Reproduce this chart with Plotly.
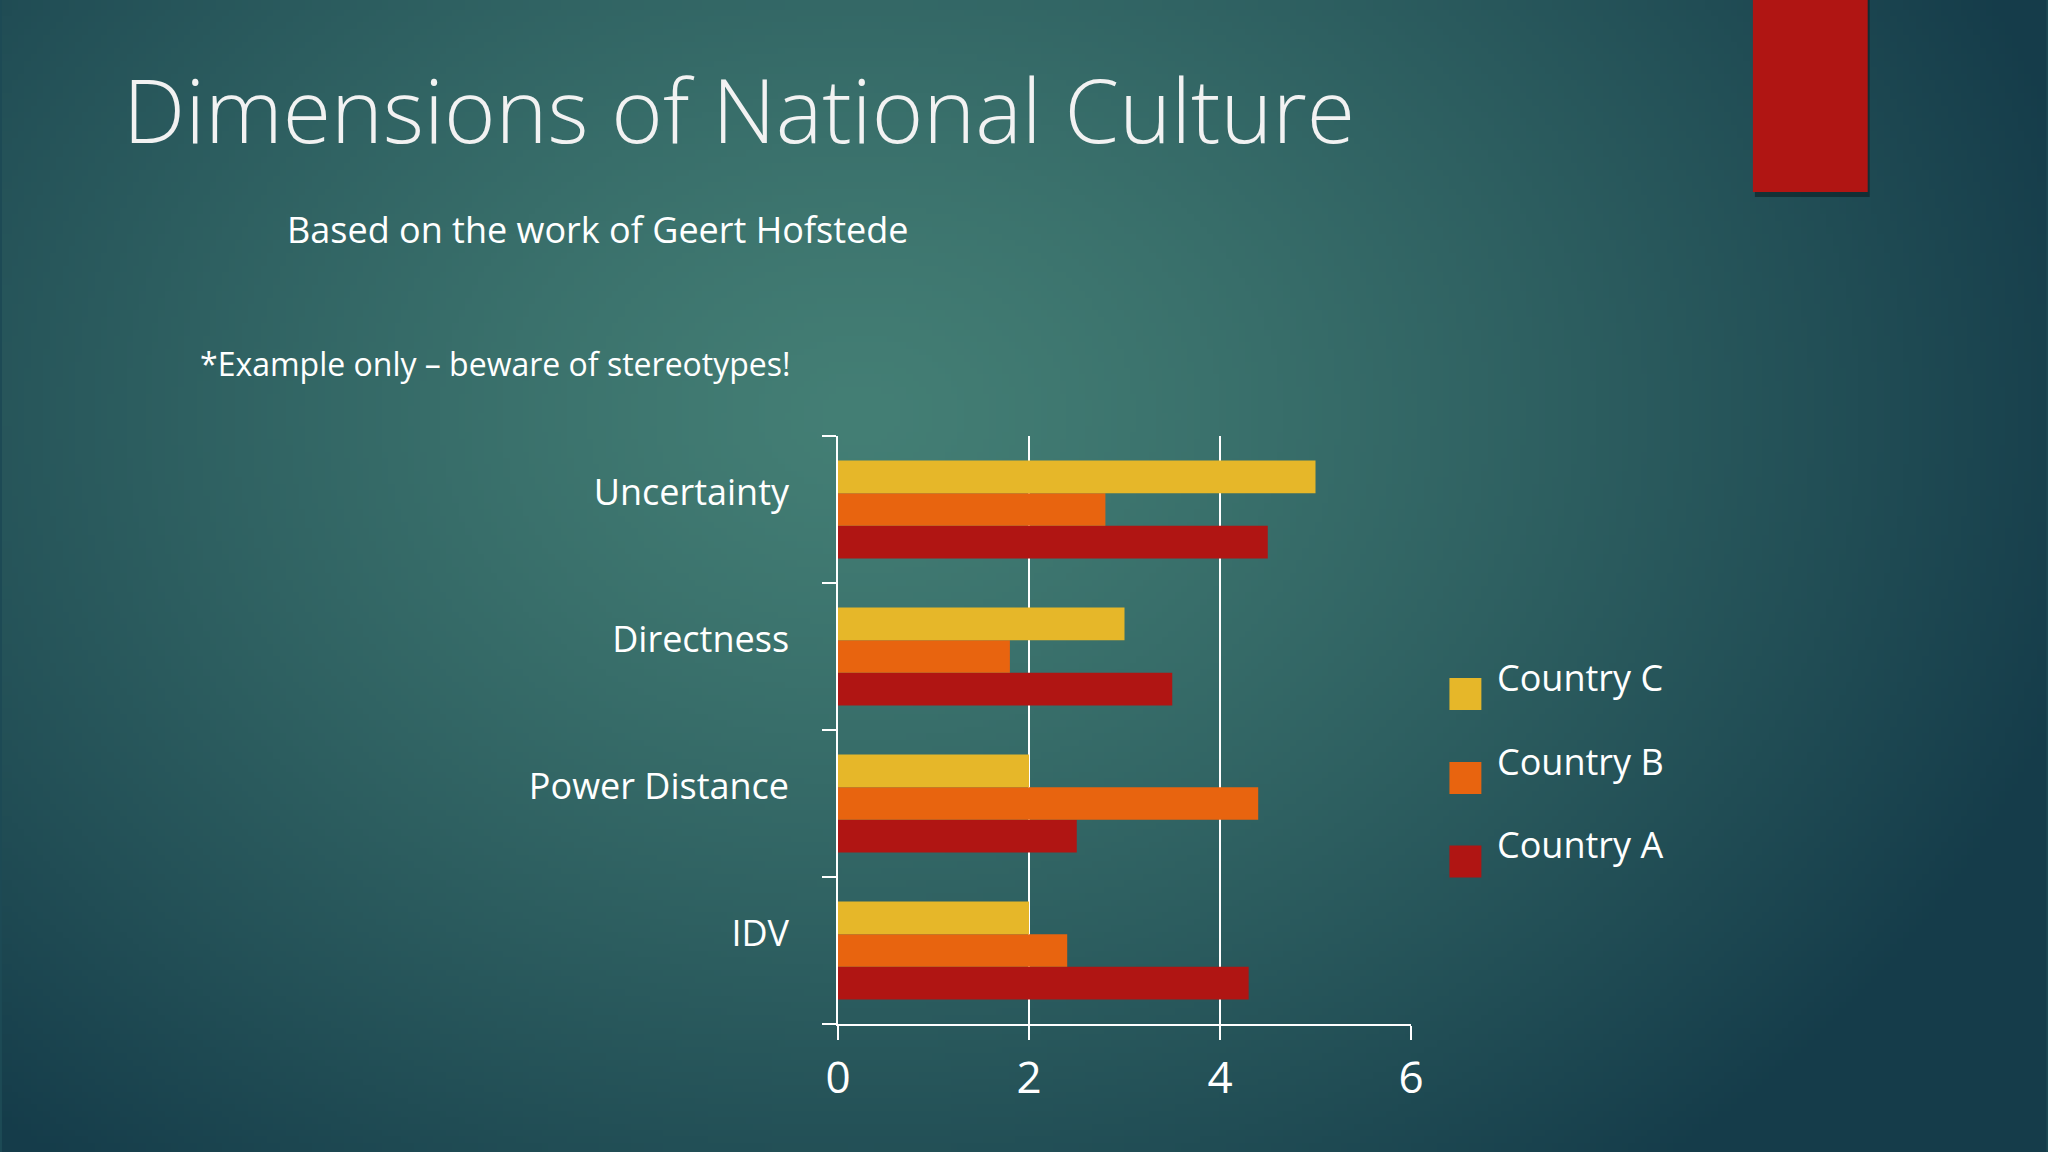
import base64, struct, zlib
import numpy as np
import plotly.graph_objects as go

# ---------------- data ----------------
categories = ["IDV", "Power Distance", "Directness", "Uncertainty"]
country_a = [4.3, 2.5, 3.5, 4.5]
country_b = [2.4, 4.4, 1.8, 2.8]
country_c = [2.0, 2.0, 3.0, 5.0]
series_names = ["Country A", "Country B", "Country C"]
series_values = [country_a, country_b, country_c]
series_colors = ["#B01513", "#E8640F", "#E6B729"]
x_ticks = [0, 2, 4, 6]

title_text = "Dimensions of National Culture"
subtitle_text = "Based on the work of Geert Hofstede"
note_text = "*Example only \u2013 beware of stereotypes!"

# ---------------- geometry ----------------
W, H = 2048, 1152
L, R, T, B = 837.5, 2048 - 1411.5, 436, 1152 - 1024
PW, PH = W - L - R, H - T - B

def px(x):
    return (x - L) / PW

def py(y):
    return (H - B - y) / PH

FONT = "Open Sans, Noto Sans, sans-serif"

# ---------------- background gradient image ----------------
gw, gh = 320, 180
yy, xx = np.mgrid[0:gh, 0:gw]
u = (xx + 0.5) / gw
v = (yy + 0.5) / gh
d = np.sqrt(((u - 0.42) / 0.62) ** 2 + ((v - 0.36) / 0.85) ** 2)
t = np.clip(d, 0, 1) ** 1.25
c0 = np.array([0x44, 0x7F, 0x75], dtype=float)
c1 = np.array([0x15, 0x3C, 0x4A], dtype=float)
img = (c0 * (1 - t[..., None]) + c1 * t[..., None]).astype(np.uint8)
raw = b"".join(b"\x00" + img[r].tobytes() for r in range(gh))

def chunk(tag, data):
    return struct.pack(">I", len(data)) + tag + data + struct.pack(">I", zlib.crc32(tag + data) & 0xFFFFFFFF)

png = (b"\x89PNG\r\n\x1a\n"
       + chunk(b"IHDR", struct.pack(">IIBBBBB", gw, gh, 8, 2, 0, 0, 0))
       + chunk(b"IDAT", zlib.compress(raw, 9))
       + chunk(b"IEND", b""))
bg_src = "data:image/png;base64," + base64.b64encode(png).decode()

# ---------------- figure ----------------
fig = go.Figure()
for name, vals, col in zip(series_names, series_values, series_colors):
    fig.add_trace(go.Bar(
        x=vals, y=categories, orientation="h", name=name,
        marker=dict(color=col, line=dict(width=0)),
        showlegend=False,
    ))

fig.update_layout(
    width=W, height=H, autosize=False,
    margin=dict(l=L, r=R, t=T, b=B, pad=0),
    paper_bgcolor="#1d4a55",
    plot_bgcolor="rgba(0,0,0,0)",
    barmode="group", bargap=0.333, bargroupgap=0,
    font=dict(family=FONT, color="white"),
    images=[dict(source=bg_src, xref="paper", yref="paper",
                 x=px(0), y=py(0), sizex=W / PW, sizey=H / PH,
                 xanchor="left", yanchor="top", sizing="stretch", layer="below")],
)

fig.update_xaxes(
    range=[0, 6], tickvals=x_ticks, ticktext=[str(v) for v in x_ticks],
    showgrid=True, gridcolor="white", gridwidth=1.5,
    zeroline=False, showline=True, linecolor="white", linewidth=1.5,
    ticks="outside", ticklen=14, tickwidth=1.5, tickcolor="white",
    tickfont=dict(size=44, color="white", family=FONT),
    ticklabelstandoff=0,
)
fig.update_yaxes(
    showgrid=False, zeroline=False, showline=True, linecolor="white", linewidth=1.5,
    ticks="outside", ticklen=14, tickwidth=1.5, tickcolor="white",
    tickson="boundaries",
    tickfont=dict(size=36, color="white", family=FONT),
    ticklabelstandoff=40, ticklabelshift=-17,
)

shapes = []
# red decorative block with shadow
shapes.append(dict(type="rect", xref="paper", yref="paper",
                   x0=px(1756), x1=px(1871), y0=py(0), y1=py(197),
                   fillcolor="rgba(10,25,30,0.55)", line=dict(width=0), layer="above"))
shapes.append(dict(type="rect", xref="paper", yref="paper",
                   x0=px(1754), x1=px(1869), y0=py(0), y1=py(192),
                   fillcolor="#B01513", line=dict(width=0), layer="above"))

annotations = [
    dict(text=title_text, xref="paper", yref="paper", x=px(119), y=py(109),
         xanchor="left", yanchor="middle", showarrow=False,
         font=dict(size=88, color="#F2F2F2", family=FONT, weight=300)),
    dict(text=subtitle_text, xref="paper", yref="paper", x=px(284), y=py(230),
         xanchor="left", yanchor="middle", showarrow=False,
         font=dict(size=36, color="white", family=FONT)),
    dict(text=note_text, xref="paper", yref="paper", x=px(196), y=py(363),
         xanchor="left", yanchor="middle", showarrow=False,
         font=dict(size=32, color="white", family=FONT)),
]

# manual legend (Country C at top)
legend_rows = [694, 778, 861.5]
for row_y, name, col in zip(legend_rows, series_names[::-1], series_colors[::-1]):
    shapes.append(dict(type="rect", xref="paper", yref="paper",
                       x0=px(1450), x1=px(1482), y0=py(row_y + 16), y1=py(row_y - 16),
                       fillcolor=col, line=dict(width=0)))
    annotations.append(dict(text=name, xref="paper", yref="paper",
                            x=px(1496), y=py(row_y - 17), xanchor="left", yanchor="middle",
                            showarrow=False, font=dict(size=36, color="white", family=FONT)))

fig.update_layout(shapes=shapes, annotations=annotations)

fig.write_html("out.html")
